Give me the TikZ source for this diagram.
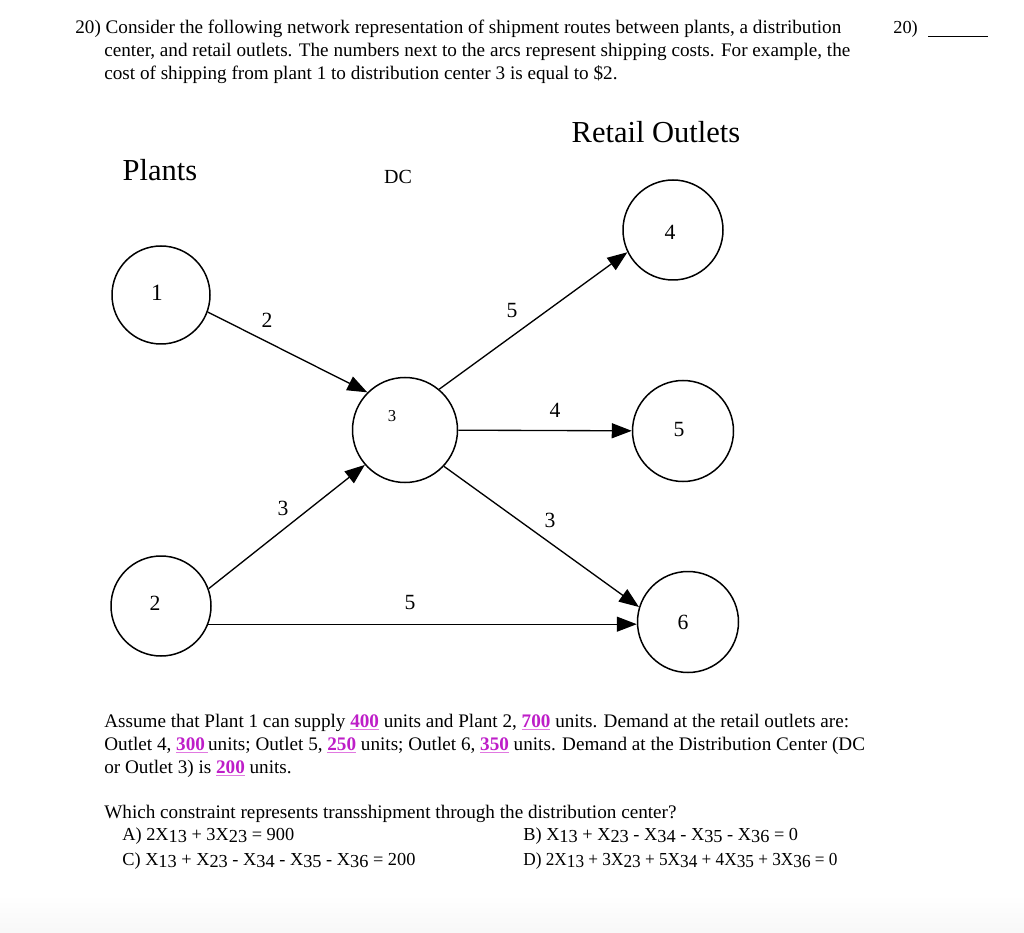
\documentclass[tikz,border=0pt]{standalone}
\usepackage{fontspec}
\setmainfont{Liberation Serif}
\usetikzlibrary{arrows.meta}
\definecolor{mag}{RGB}{190,30,200}
\definecolor{magl}{RGB}{225,120,225}
\newcommand\hlnum[1]{{\color{magl}\underline{\textcolor{mag}{\bfseries #1}}}}
\newcommand\Xs[1]{X\raisebox{-0.35ex}{#1}}
\tikzset{
  txt/.style={anchor=base west, inner sep=0pt, font=\fontsize{11.5}{13}\selectfont},
  eqn/.style={anchor=base west, inner sep=0pt, font=\fontsize{11}{13}\selectfont},
  cir/.style={circle, draw, line width=0.9pt, minimum size=#1, inner sep=0pt},
  arr/.style={-{Triangle[length=12pt,width=9pt]}, line width=0.8pt},
  elab/.style={inner sep=0pt, font=\fontsize{13}{15}\selectfont},
  head/.style={inner sep=0pt, font=\fontsize{18.3}{20}\selectfont},
}
\begin{document}
\begin{tikzpicture}[x=0.6pt,y=-0.6pt]
\useasboundingbox (0,0) rectangle (1024,933);
\shade[top color=white, bottom color=black!3] (0,895) rectangle (1024,933);
% header
\node[txt] (h1) at (75,34) {20) Consider the following network representation of shipment routes between plants, a distribution};
\node[txt] (h2) at (104,57) {center, and retail outlets. The numbers next to the arcs represent shipping costs. For example, the};
\node[txt] (h3) at (104,80) {cost of shipping from plant 1 to distribution center 3 is equal to \$2.};
\node[eqn] (q) at (893,34) {20)};
\coordinate (ql) at (928,37);
\coordinate (qr) at (988,37);
\draw[line width=0.6pt] (ql) -- (qr);
% headings
\node[head] (ret) at (656,132) {Retail Outlets};
\node[head] (pl) at (160,170) {Plants};
\node[inner sep=0pt, font=\fontsize{12}{14}\selectfont] (dclab) at (398,177) {DC};
% nodes
\node[cir=58.8pt] (p1) at (161,295) {};
\node[font=\fontsize{14}{16}\selectfont] (p1t) at (157,293) {1};
\node[cir=60pt] (p2) at (161,606) {};
\node[font=\fontsize{13}{15}\selectfont] (p2t) at (155,603) {2};
\node[cir=63pt] (dc) at (405,430) {};
\node[font=\fontsize{10}{12}\selectfont] (dct) at (392,416) {3};
\node[cir=60pt] (o4) at (673,230) {};
\node[font=\fontsize{13}{15}\selectfont] (o4t) at (670,232) {4};
\node[cir=60.6pt] (o5) at (683,431) {};
\node[font=\fontsize{13}{15}\selectfont] (o5t) at (679,430) {5};
\node[cir=60.6pt] (o6) at (688,622) {};
\node[font=\fontsize{13}{15}\selectfont] (o6t) at (683,622) {6};
% arcs
\draw[arr] (p1.-20) -- (dc.135);
\draw[arr] (p2.20) -- (dc.221);
\draw[arr] (p2.-21) -- (p2.-21 -| o6.west);
\draw[arr] (dc.50) -- (o4.206);
\draw[arr] (dc) -- (o5);
\draw[arr] (dc.-43) -- (o6.163);
% arc labels
\node[elab] (l13) at (267,320) {2};
\node[elab] (l23) at (283,508) {3};
\node[elab] (l26) at (410,603) {5};
\node[elab] (l34) at (512,311) {5};
\node[elab] (l35) at (555,410) {4};
\node[elab] (l36) at (550,520) {3};
% bottom text
\node[txt] (b1) at (104,727) {Assume that Plant 1 can supply \hlnum{400} units and Plant 2, \hlnum{700} units. Demand at the retail outlets are:};
\node[txt] (b2) at (104,750) {Outlet 4, \hlnum{300\,}units; Outlet 5, \hlnum{250} units; Outlet 6, \hlnum{350} units. Demand at the Distribution Center (DC};
\node[txt] (b3) at (104,773) {or Outlet 3) is \hlnum{200} units.};
\node[txt] (w) at (104,818) {Which constraint represents transshipment through the distribution center?};
\node[eqn] (a) at (122,840) {A) 2\Xs{13} + 3\Xs{23} = 900};
\node[eqn] (c) at (122,865) {C) \Xs{13} + \Xs{23} - \Xs{34} - \Xs{35} - \Xs{36} = 200};
\node[eqn] (b) at (523,840) {B) \Xs{13} + \Xs{23} - \Xs{34} - \Xs{35} - \Xs{36} = 0};
\node[eqn] (d) at (523,865) {\scalebox{0.94}[1]{D) 2\Xs{13} + 3\Xs{23} + 5\Xs{34} + 4\Xs{35} + 3\Xs{36} = 0}};
\end{tikzpicture}
\end{document}
